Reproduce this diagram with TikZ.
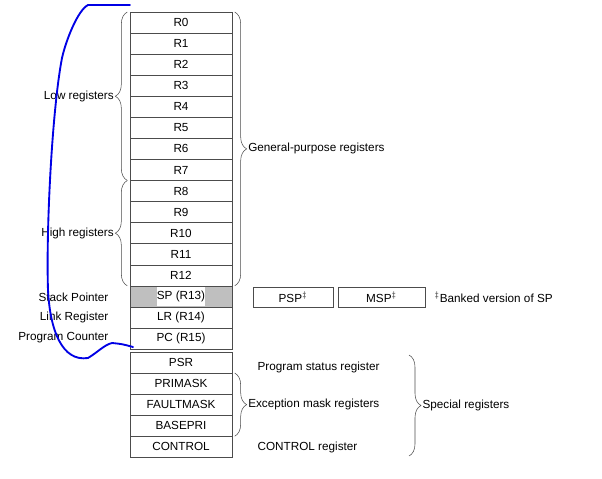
\documentclass[tikz,border=0pt]{standalone}
\usepackage{fontspec}
\setmainfont{Liberation Sans}
\usetikzlibrary{decorations.pathreplacing,positioning}
\begin{document}
\begin{tikzpicture}[x=0.75pt,y=-0.75pt,
	reg/.style={draw=black!70,minimum width=76.5pt,minimum height=15.8pt,inner sep=0pt,outer sep=0pt,font=\fontsize{8.8}{10}\selectfont},
	bank/.style={reg,minimum width=60pt,minimum height=15pt},
	lbl/.style={font=\fontsize{8.8}{10}\selectfont,inner sep=1pt},
	brc/.style={draw=black!70,decorate,decoration={brace,amplitude=9pt,aspect=0.5}}]
	\useasboundingbox (0,0) rectangle (602,478);
	% core registers
	\node[reg] (r0) at (181,22.5) {R0};
	\foreach \i [remember=\i as \j (initially 0)] in {1,...,12}
		\node[reg,below=0pt of r\j] (r\i) {R\i};
	\node[reg,fill=black!25,below=0pt of r12] (sp) {\colorbox{white}{\hspace{-3pt}SP (R13)\hspace{-3pt}}};
	\node[reg,below=0pt of sp] (lr) {LR (R14)};
	\node[reg,below=0pt of lr] (pc) {PC (R15)};
	% special registers
	\node[reg] (psr) at (181,362.5) {PSR};
	\node[reg,below=0pt of psr] (primask) {PRIMASK};
	\node[reg,below=0pt of primask] (faultmask) {FAULTMASK};
	\node[reg,below=0pt of faultmask] (basepri) {BASEPRI};
	\node[reg,below=0pt of basepri] (control) {CONTROL};
	% banked SP
	\node[bank] (psp) at (293,297) {PSP$^\ddagger$};
	\node[bank,minimum width=65pt] (msp) at (381.5,297) {MSP$^\ddagger$};
	\node[lbl,anchor=west] (banked) at (433,297) {$^\ddagger$Banked version of SP};
	% left labels
	\node[lbl,anchor=east] (splbl) at (110,297) {Stack Pointer};
	\node[lbl,anchor=east] (lrlbl) at (110,317) {Link Register};
	\node[lbl,anchor=east] (pclbl) at (110,338) {Program Counter};
	% braces
	\draw[brc] ([xshift=-2pt]r7.south west) -- ([xshift=-2pt]r0.north west) node[midway,lbl,anchor=east,xshift=-9pt] (low) {Low registers};
	\draw[brc] ([xshift=-2pt]r12.south west) -- ([xshift=-2pt]r8.north west) node[midway,lbl,anchor=east,xshift=-9pt] (high) {High registers};
	\draw[brc] ([xshift=2pt]r0.north east) -- ([xshift=2pt]r12.south east) node[midway,lbl,anchor=west,xshift=9pt] (gpr) {General-purpose registers};
	\draw[brc] ([xshift=2pt]primask.north east) -- ([xshift=2pt]basepri.south east) node[midway,lbl,anchor=west,xshift=9pt] (excl) {Exception mask registers};
	\node[lbl,anchor=west] (psrl) at (256,367) {Program status register};
	\node[lbl,anchor=west] (ctrl) at (256,447) {CONTROL register};
	\draw[brc] (409,355) -- (409,456) node[midway,lbl,anchor=west,xshift=9pt] (spec) {Special registers};
	% hand-drawn mark
	\draw[blue!90!black,line width=1.4pt,line cap=round] (130,5) -- (88,5) .. controls (78,10) and (66,40) .. (62,58)
		.. controls (52,110) and (46,230) .. (48,290) .. controls (50,330) and (62,362) .. (88,358)
		.. controls (98,352) and (104,345) .. (112,343) .. controls (122,344) .. (133,347);
\end{tikzpicture}
\end{document}
